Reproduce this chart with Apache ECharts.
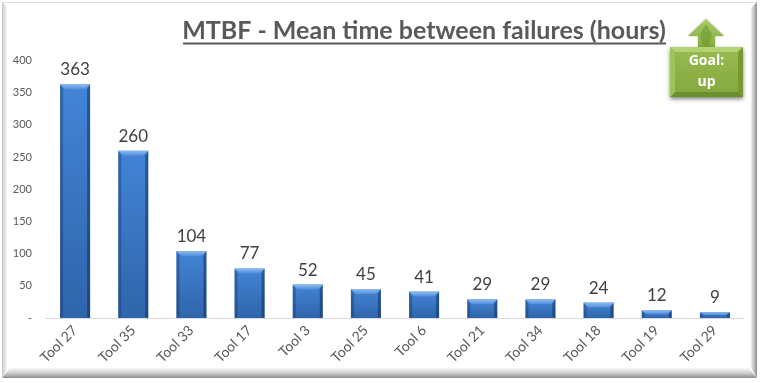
<!DOCTYPE html>
<html><head><meta charset="utf-8">
<script src="https://cdn.jsdelivr.net/npm/echarts@6/dist/echarts.min.js"></script>
<style>html,body{margin:0;padding:0;background:#fff}#c{width:760px;height:383px}</style>
</head><body><div id="c"></div>
<script>
const categories = ['Tool 27','Tool 35','Tool 33','Tool 17','Tool 3','Tool 25','Tool 6','Tool 21','Tool 34','Tool 18','Tool 19','Tool 29'];
const mtbfHours = [363,260,104,77,52,45,41,29,29,24,12,9];
const titleText = 'MTBF - Mean time between failures (hours)';
const FONT = 'Lato, "Open Sans", sans-serif';
const lin = (x0,y0,x1,y1,stops)=>({type:'linear',x:x0,y:y0,x2:x1,y2:y1,colorStops:stops.map(s=>({offset:s[0],color:s[1]}))});
const chart = echarts.init(document.getElementById('c'),null,{renderer:'canvas'});
const poly=(pts,fill,z)=>({type:'polygon',z:z,shape:{points:pts},style:{fill:fill}});
chart.setOption({
  animation:false,
  backgroundColor:'#fff',
  textStyle:{fontFamily:FONT},
  grid:{left:46,right:16,top:60.5,bottom:65,containLabel:false},
  xAxis:{type:'category',data:categories,
    axisLine:{lineStyle:{color:'#d9d9d9',width:1}},axisTick:{show:false},
    axisLabel:{rotate:45,color:'#595959',fontSize:14,fontFamily:FONT,margin:10,interval:0}},
  yAxis:{type:'value',min:0,max:400,interval:50,splitLine:{show:false},
    axisLine:{show:false},axisTick:{show:false},
    axisLabel:{color:'#595959',fontSize:11,fontFamily:FONT,margin:14,padding:[2,0,0,0],formatter:v=>v===0?'-':String(v)}},
  series:[
    {type:'bar',data:mtbfHours,barWidth:30,
      itemStyle:{color:lin(0,0,0,1,[[0,'#4384d6'],[1,'#2f65aa']])},
      label:{show:true,position:'top',distance:6,color:'#404040',fontSize:17,fontFamily:FONT}},
    {type:'custom',silent:true,z:3,data:mtbfHours.map((v,i)=>[i,v]),
      encode:{x:0,y:1},
      renderItem:(params,api)=>{
        const p=api.coord([api.value(0),api.value(1)]), b=api.coord([api.value(0),0]);
        const hw=15,h=Math.min(5,(b[1]-p[1])/2),x=p[0],y=p[1],e=3;
        return {type:'group',children:[
          {type:'polygon',shape:{points:[[x-hw,y],[x-hw+e,y+h],[x-hw+e,b[1]-1],[x-hw,b[1]]]},
           style:{fill:'rgba(20,50,100,.38)'}},
          {type:'polygon',shape:{points:[[x+hw,y],[x+hw-e,y+h],[x+hw-e,b[1]-1],[x+hw,b[1]]]},
           style:{fill:'rgba(15,40,85,.5)'}},
          {type:'polygon',shape:{points:[[x-hw,y],[x+hw,y],[x+hw-e-2,y+h],[x-hw+e+2,y+h]]},
           style:{fill:lin(0,0,0,1,[[0,'#8dbbf0'],[1,'#4f8edc']])}}
        ]};
      }}
  ],
  graphic:[
    {type:'rect',z:-1,shape:{x:2,y:2,width:755,height:1},style:{fill:'#dedede'}},
    poly([[2,2],[7,7],[7,370],[2,378]],lin(0,0,1,0,[[0,'#c8c8c8'],[1,'#f6f6f6']]),-1),
    poly([[757,2],[751,8],[751,368],[757,378]],lin(0,0,1,0,[[0,'#f2f2f2'],[0.6,'#b8b8b8'],[1,'#8c8c8c']]),-1),
    poly([[2,378],[757,378],[749,368],[10,368]],lin(0,0,0,1,[[0,'#fafafa'],[0.6,'#c4c4c4'],[1,'#8c8c8c']]),-1),
    {type:'text',style:{text:titleText,x:424,y:31,align:'center',verticalAlign:'middle',fill:'#595959',font:'bold 25px '+FONT}},
    {type:'rect',shape:{x:183,y:42.5,width:483,height:2},style:{fill:'#595959'}},
    {type:'polygon',z:10,shape:{points:[[706,19],[724,36],[715,36],[715,48],[698,48],[698,36],[688,36]]},
      style:{fill:lin(0,0,0,1,[[0,'#a9cc68'],[1,'#86aa40']]),shadowBlur:2,shadowColor:'rgba(0,0,0,.3)'}},
    poly([[706,24],[712,34],[709,46],[703,46],[700,34]],'rgba(110,150,45,.55)',10),
    {type:'rect',z:10,shape:{x:670,y:47,width:73,height:50},
      style:{fill:lin(0,0,0,1,[[0,'#98bc50'],[1,'#84a73f']]),shadowBlur:4,shadowOffsetY:2,shadowColor:'rgba(0,0,0,.5)'}},
    poly([[670,47],[743,47],[738,52],[675,52]],'#b3d274',10),
    poly([[670,97],[743,97],[738,92],[675,92]],'#6c8f2e',10),
    poly([[670,47],[675,52],[675,92],[670,97]],'#a0c25a',10),
    poly([[743,47],[738,52],[738,92],[743,97]],'#78992f',10),
    {type:'text',z:11,style:{text:'Goal:',x:706.5,y:61,align:'center',verticalAlign:'middle',fill:'#fff',font:'bold 14px "Open Sans", sans-serif'}},
    {type:'text',z:11,style:{text:'up',x:706.5,y:82,align:'center',verticalAlign:'middle',fill:'#fff',font:'bold 14px "Open Sans", sans-serif'}}
  ]
});
</script></body></html>
